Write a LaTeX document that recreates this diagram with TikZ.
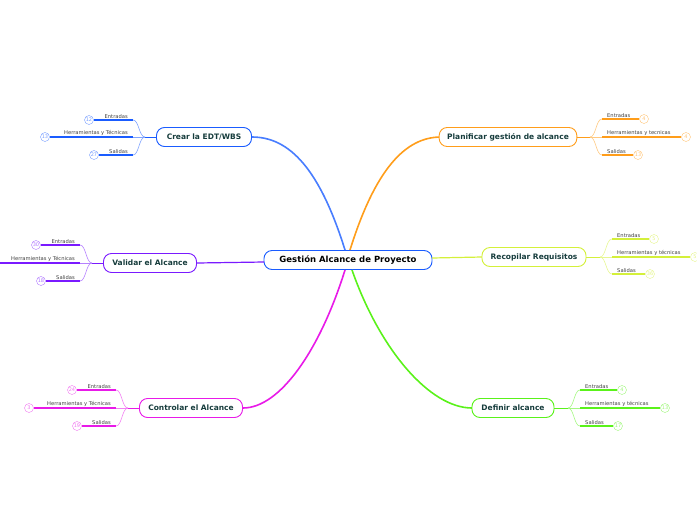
\documentclass[tikz,border=0pt]{standalone}
\usepackage{fontspec}
\setmainfont{DejaVu Sans}
\definecolor{colb}{HTML}{1A5CFF}
\definecolor{colo}{HTML}{FF9D1A}
\definecolor{coly}{HTML}{D4F03A}
\definecolor{colp}{HTML}{7A1AFF}
\definecolor{colm}{HTML}{E81AE8}
\definecolor{colg}{HTML}{5AF21A}
\definecolor{tx}{HTML}{163C3C}
\tikzset{
 topic/.style={draw=#1,line width=0.9pt,rounded corners=8pt,fill=white,minimum height=19pt,inner xsep=8pt,font=\fontsize{7.5}{8}\selectfont\bfseries,text=tx},
 lbl/.style={font=\fontsize{5.2}{6}\selectfont,text=black!75,inner sep=1pt},
 num/.style={draw=#1!60,circle,fill=white,minimum size=9pt,inner sep=0pt,font=\fontsize{5}{5}\selectfont,text=#1!60},
}
\newcommand\lleaf[7]{% color, forkx, forky, y, xend, label, num
 \draw[#1!55,line width=0.6pt] (#2,#3) .. controls (#2-6,#3) and (#2-6,#4) .. (#2-12,#4);
 \draw[#1,line width=1.3pt] (#2-12,#4) -- (#5,#4);
 \node[lbl,anchor=south east] at (#2-16,#4) {#6};
 \node[num=#1] at (#5-5,#4) {#7};}
\newcommand\rleaf[7]{%
 \draw[#1!55,line width=0.6pt] (#2,#3) .. controls (#2+6,#3) and (#2+6,#4) .. (#2+12,#4);
 \draw[#1,line width=1.3pt] (#2+12,#4) -- (#5,#4);
 \node[lbl,anchor=south west] at (#2+16,#4) {#6};
 \node[num=#1] at (#5+5,#4) {#7};}
\begin{document}
\begin{tikzpicture}[x=1pt,y=-1pt]
\useasboundingbox (0,0) rectangle (697,520);
\node[topic=colb,minimum width=168pt,font=\fontsize{8.5}{9}\selectfont\bfseries,text=black] (c) at (348,260) {Gestión Alcance de Proyecto};
\draw[colb!80,line width=1.6pt] (345,250) .. controls (320,170) and (290,137) .. (252,137);
\draw[colo,line width=1.6pt] (350,250) .. controls (375,170) and (405,137) .. (441,137);
\draw[colg,line width=1.6pt] (352,270) .. controls (380,350) and (430,408) .. (472,408);
\draw[colm,line width=1.6pt] (345,270) .. controls (320,350) and (280,408) .. (243,408);
\draw[colp,line width=1.2pt] (264,262) -- (197,263);
\draw[coly,line width=1.2pt] (432,258) -- (482,257);
\node[topic=colb,minimum width=95pt] (a) at (204,137) {Crear la EDT/WBS};
\node[topic=colo,minimum width=134pt] (b) at (508,137) {Planificar gestión de alcance};
\node[topic=coly,minimum width=104pt] (r) at (534,257) {Recopilar Requisitos};
\node[topic=colp,minimum width=93pt] (v) at (150,263) {Validar el Alcance};
\node[topic=colm,minimum width=103pt] (k) at (191,408) {Controlar el Alcance};
\node[topic=colg,minimum width=82pt] (d) at (513,408) {Definir alcance};
\draw[colb,line width=0.8pt] (a.west) -- (145,137);
\lleaf{colb}{145}{137}{120}{94}{Entradas}{12}
\lleaf{colb}{145}{137}{137}{50}{Herramientas y Técnicas}{13}
\lleaf{colb}{145}{137}{155}{99}{Salidas}{27}
\draw[colp,line width=0.8pt] (v.west) -- (92,263);
\lleaf{colp}{92}{263}{245}{41}{Entradas}{30}
\lleaf{colp}{92}{263}{263}{0}{Herramientas y Técnicas}{}
\lleaf{colp}{92}{263}{281}{46}{Salidas}{18}
\draw[colm,line width=0.8pt] (k.west) -- (128,408);
\lleaf{colm}{128}{408}{390}{77}{Entradas}{24}
\lleaf{colm}{128}{408}{408}{34}{Herramientas y Técnicas}{3}
\lleaf{colm}{128}{408}{426}{82}{Salidas}{19}
\draw[colo,line width=0.8pt] (b.east) -- (590,137);
\rleaf{colo}{590}{137}{119}{639}{Entradas}{4}
\rleaf{colo}{590}{137}{137}{681}{Herramientas y tecnicas}{4}
\rleaf{colo}{590}{137}{155}{633}{Salidas}{13}
\draw[coly,line width=0.8pt] (r.east) -- (600,257);
\rleaf{coly}{600}{257}{239}{649}{Entradas}{5}
\rleaf{coly}{600}{257}{257}{690}{Herramientas y técnicas}{5}
\rleaf{coly}{600}{257}{274}{645}{Salidas}{36}
\draw[colg,line width=0.8pt] (d.east) -- (568,408);
\rleaf{colg}{568}{408}{390}{617}{Entradas}{4}
\rleaf{colg}{568}{408}{408}{660}{Herramientas y técnicas}{13}
\rleaf{colg}{568}{408}{426}{613}{Salidas}{17}
\end{tikzpicture}
\end{document}
